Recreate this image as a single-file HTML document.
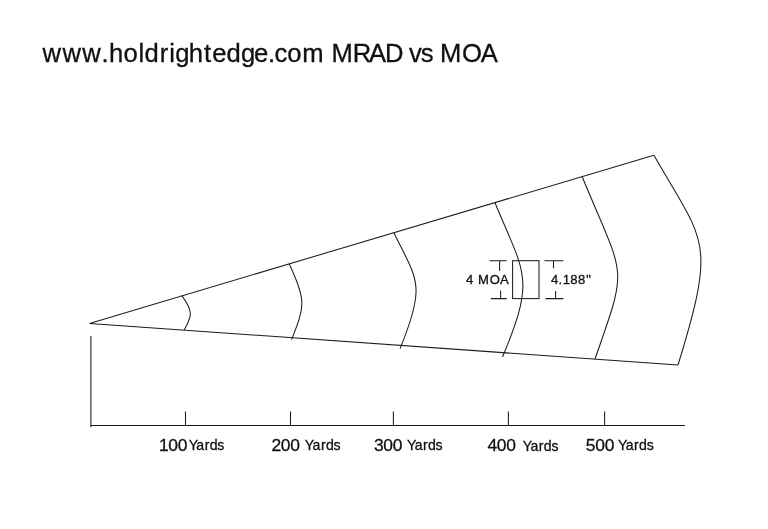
<!DOCTYPE html>
<html><head><meta charset="utf-8"><title>MRAD vs MOA</title>
<style>
html,body{margin:0;padding:0;background:#fff;}
svg{display:block;}
text{font-family:"Liberation Sans",sans-serif;fill:#111;stroke:#111;stroke-width:0.3;font-kerning:none;}
</style></head><body>
<svg width="768" height="529" viewBox="0 0 768 529">
<rect width="768" height="529" fill="#fff"/>
<text x="42.43 62.39 82.36 101.55 108.93 123.57 138.41 144.49 159.72 169.22 175.21 188.71 204.11 212.32 226.38 240.96 254.04 268.03 274.62 287.18 302.26 323.97 331.56 352.85 368.88 384.89 402.68 408.90 420.78 432.53 440.12 462.02 480.77" y="62.3" font-size="25.6">www.holdrightedge.com MRAD vs MOA</text>
<text x="159.04 168.36 177.82" y="450.8" font-size="17.4">100</text>
<text x="271.42 280.86 290.32" y="450.8" font-size="17.4">200</text>
<text x="374.02 383.36 392.82" y="450.8" font-size="17.4">300</text>
<text x="487.45 496.86 506.32" y="451.2" font-size="17.4">400</text>
<text x="585.78 595.36 604.82" y="450.8" font-size="17.4">500</text>
<text x="188.63 196.34 204.69 209.71 217.29" y="450.3" font-size="14.1">Yards</text>
<text x="304.83 312.54 320.89 325.91 333.49" y="450.3" font-size="14.1">Yards</text>
<text x="406.93 414.64 422.99 428.01 435.59" y="450.3" font-size="14.1">Yards</text>
<text x="522.78 530.49 538.84 543.86 551.44" y="451.3" font-size="14.1">Yards</text>
<text x="618.03 625.74 634.09 639.11 646.69" y="450.3" font-size="14.1">Yards</text>
<text x="466.00 473.45 477.93 489.83 499.98" y="283.9" font-size="13.1">4 MOA</text>
<text x="551.00 558.55 562.64 570.20 577.91 586.31" y="283.9" font-size="13.1">4.188&quot;</text>
<g fill="none" stroke="#1c1c1c" stroke-width="1.05">
<path d="M653.9 155.2L89.5 323.4L678 365"/>
<path d="M181.6 295.4C195.7 314.1 189.9 318.2 184.2 329.9"/>
<path d="M289.2 263.9C306.4 299.9 305.0 306.1 291.6 339.6"/>
<path d="M393.9 232.7C416.9 280.3 426.7 283.7 400.1 348.5"/>
<path d="M495.0 202.7C524.6 274.6 535.9 277.4 502.5 357.0"/>
<path d="M581.9 176.0C625.0 280.9 629.0 261.7 595.0 359.0"/>
<path d="M653.9 155.2C704.6 243.6 716.9 238.3 678.0 365.0"/>
<path d="M90.9 336V427.2"/>
<path d="M90.4 425.5H685"/>
<path d="M185.5 411.4V426M290.5 411.4V426M393.4 411.4V426M508.4 411.4V426M604.6 411.4V426"/>
<rect x="512.6" y="260.7" width="26.4" height="37.9"/>
<path d="M489.5 260.7H506.75M499.6 260.7V271M490.8 298.6H506.75M500.6 290.6V298.6"/>
<path d="M544.5 260.7H563.3M553.5 260.7V268.2M545.5 298.6H563.3M555.6 291V298.6"/>
</g>
</svg>
</body></html>
